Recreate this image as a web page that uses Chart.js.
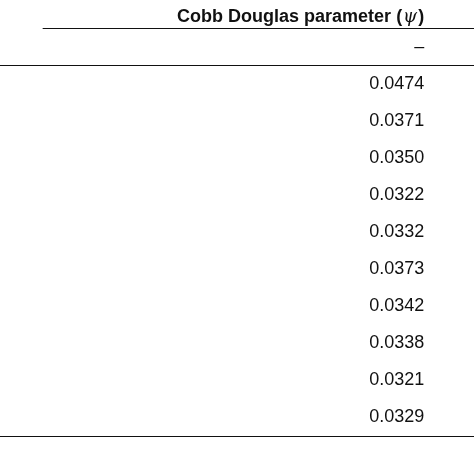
<!DOCTYPE html>
<html><head><meta charset="utf-8">
<script src="https://cdn.jsdelivr.net/npm/chart.js@4/dist/chart.umd.min.js"></script>
<style>html,body{margin:0;padding:0;background:#fff}#c{width:474px;height:474px}</style>
</head><body><div id="c"><canvas id="tbl"></canvas></div>
<script>
const header = "Cobb Douglas parameter (";
const headerSym = "\u03c8";
const unitRow = "\u2013";
const values = ["0.0474","0.0371","0.0350","0.0322","0.0332","0.0373","0.0342","0.0338","0.0321","0.0329"];

// rows: -1 header, 0 unit row, 1..10 values
const pts = values.map((v,i)=>({x:0.895,y:i+1,label:v}));
pts.unshift({x:0.895,y:0,label:unitRow});

const tablePlugin = {
    id:"tablePlugin",
    afterDatasetsDraw(chart){
        const c = chart.ctx, xs = chart.scales.x, ys = chart.scales.y;
        c.save();
        c.fillStyle = "#111";
        c.font = "18px 'Liberation Sans'";
        c.textAlign = "right";
        c.textBaseline = "middle";
        chart.data.datasets[0].data.forEach(p=>{
            c.fillText(p.label, xs.getPixelForValue(p.x), ys.getPixelForValue(p.y));
        });
        // header: bold text + italic psi
        let xr = xs.getPixelForValue(0.895), yh = ys.getPixelForValue(-0.8);
        c.font = "bold 18px 'Liberation Sans'";
        c.fillText(")", xr, yh);
        let w1 = c.measureText(")").width;
        c.font = "italic 18px 'DejaVu Serif'";
        c.fillText(headerSym, xr-w1-1, yh);
        let w2 = c.measureText(headerSym).width;
        c.font = "bold 18px 'Liberation Sans'";
        c.fillText(header, xr-w1-w2-2, yh);
        c.strokeStyle = "#111";
        function hline(x0,x1,r,w){
            let y = Math.round(ys.getPixelForValue(r))+0.5;
            c.lineWidth = w;
            c.beginPath(); c.moveTo(xs.getPixelForValue(x0),y); c.lineTo(xs.getPixelForValue(x1),y); c.stroke();
        }
        hline(0.09,1,-0.5,1);
        hline(0,1,0.5,1.2);
        hline(0,1,10.5,1.2);
        c.restore();
    }
};

new Chart(document.getElementById("tbl"),{
    type:"scatter",
    data:{datasets:[{data:pts,pointRadius:0,showLine:false}]},
    options:{
        responsive:true, maintainAspectRatio:false, animation:false,
        layout:{padding:0},
        plugins:{legend:{display:false},tooltip:{enabled:false}},
        scales:{
            x:{type:"linear",min:0,max:1,display:false},
            y:{type:"linear",reverse:true,min:-1.27,max:11.54,display:false}
        }
    },
    plugins:[tablePlugin]
});
</script></body></html>
